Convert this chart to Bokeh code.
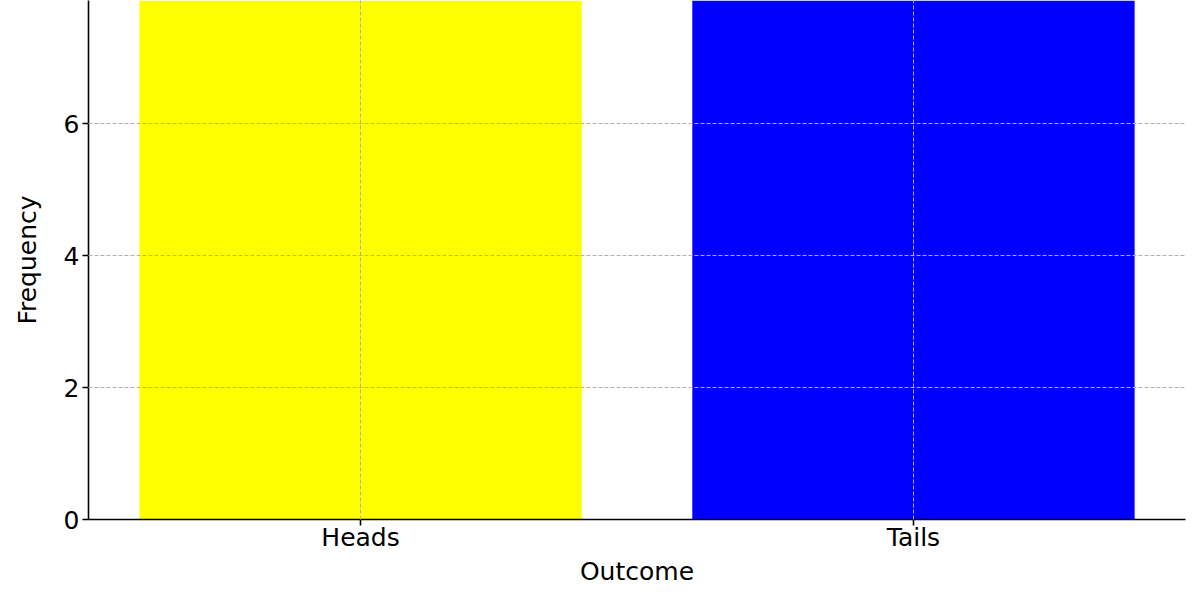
from bokeh.plotting import figure
from bokeh.models import Range1d, FactorRange, FixedTicker
from bokeh.embed import file_html
from bokeh.resources import INLINE

outcomes = ["Heads", "Tails"]
frequency = [10, 10]
bar_colors = ["yellow", "blue"]
y_ticks = [0, 2, 4, 6, 8]

p = figure(width=1192, height=588,
           x_range=FactorRange(*outcomes, range_padding=-0.008, range_padding_units="absolute"),
           y_range=Range1d(0, 7.864), output_backend="svg", toolbar_location=None,
           min_border_left=88, min_border_right=7, min_border_top=0, min_border_bottom=69)

p.vbar(x=outcomes, top=frequency, width=0.8, color=bar_colors, line_color=None)

p.outline_line_color = None
p.background_fill_color = "white"
p.border_fill_color = "white"

for g in (p.xgrid, p.ygrid):
    g.grid_line_color = "#b0b0b0"
    g.grid_line_dash = "4 2"
    g.grid_line_width = 1
    g.level = "overlay"

p.yaxis.ticker = FixedTicker(ticks=y_ticks)
p.xaxis.axis_label = "Outcome"
p.yaxis.axis_label = "Frequency"
for ax in (p.xaxis, p.yaxis):
    ax.axis_line_color = "black"
    ax.axis_line_width = 1.6
    ax.major_tick_line_color = "black"
    ax.major_tick_line_width = 1.6
    ax.major_tick_out = 6
    ax.major_tick_in = 0
    ax.minor_tick_line_color = None
    ax.major_label_text_font = "DejaVu Sans"
    ax.major_label_text_font_size = "25px"
    ax.major_label_text_color = "black"
    ax.axis_label_text_font = "DejaVu Sans"
    ax.axis_label_text_font_size = "25px"
    ax.axis_label_text_font_style = "normal"
    ax.axis_label_text_color = "black"
p.xaxis.major_label_standoff = -3
p.yaxis.major_label_standoff = 3
p.xaxis.axis_label_standoff = 2
p.yaxis.axis_label_standoff = 19

open("out.html", "w").write(file_html(p, INLINE))
